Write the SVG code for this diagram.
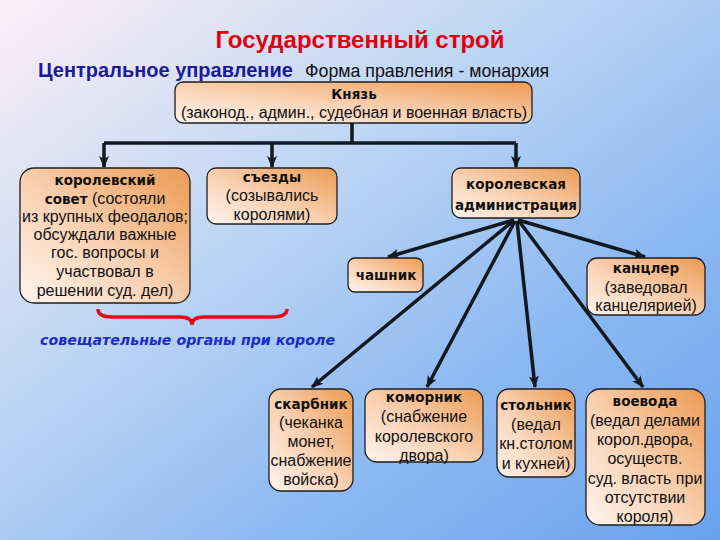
<svg xmlns="http://www.w3.org/2000/svg" width="720" height="540" viewBox="0 0 720 540">
<defs>
<linearGradient id="bg" x1="0" y1="0" x2="1" y2="1">
<stop offset="0" stop-color="#fdeef6"/>
<stop offset="0.35" stop-color="#c2d8f4"/>
<stop offset="0.7" stop-color="#8ab8f2"/>
<stop offset="1" stop-color="#6aa2ee"/>
</linearGradient>
<linearGradient id="box" x1="0" y1="1" x2="1" y2="0">
<stop offset="0" stop-color="#fff4ee"/>
<stop offset="0.45" stop-color="#f9d2b4"/>
<stop offset="1" stop-color="#ec9a52"/>
</linearGradient>
<marker id="ah" markerUnits="userSpaceOnUse" markerWidth="12" markerHeight="12" viewBox="0 0 12 12" refX="11" refY="6" orient="auto">
<path d="M0,1 L12,6 L0,11 L3,6 Z" fill="#111820"/>
</marker>
<style>
.b{fill:url(#box);stroke:#1e1e1e;stroke-width:1.3}
.t{font-family:"Liberation Sans",Arial,sans-serif;font-size:16px;fill:#111;text-anchor:middle}
.h{font-family:"DejaVu Sans",Verdana,sans-serif;font-size:13.5px;font-weight:bold;fill:#111;text-anchor:middle}
.c{fill:none;stroke:#111820;stroke-width:3.5}
</style>
</defs>
<rect width="720" height="540" fill="url(#bg)"/>
<text x="360" y="48" font-family="Liberation Sans,Arial,sans-serif" font-size="24" font-weight="bold" fill="#e00010" text-anchor="middle">Государственный строй</text>
<text x="38" y="77" font-family="Liberation Sans,Arial,sans-serif" font-size="20" font-weight="bold" fill="#1a1a9c">Центральное управление</text>
<text x="305" y="77" font-family="Liberation Sans,Arial,sans-serif" font-size="17.8" fill="#111">Форма правления - монархия</text>

<g id="connectors">
<path class="c" d="M352,123 V143 M104,143 H516"/>
<line class="c" x1="104" y1="143" x2="104" y2="167" marker-end="url(#ah)"/>
<line class="c" x1="272" y1="143" x2="272" y2="167" marker-end="url(#ah)"/>
<line class="c" x1="516" y1="143" x2="516" y2="167" marker-end="url(#ah)"/>
<line class="c" x1="514" y1="220" x2="388" y2="257" marker-end="url(#ah)"/>
<line class="c" x1="518" y1="220" x2="645" y2="257" marker-end="url(#ah)"/>
<line class="c" x1="513" y1="221" x2="312" y2="387" marker-end="url(#ah)"/>
<line class="c" x1="515" y1="221" x2="427" y2="387" marker-end="url(#ah)"/>
<line class="c" x1="517" y1="221" x2="535" y2="387" marker-end="url(#ah)"/>
<line class="c" x1="519" y1="221" x2="643" y2="387" marker-end="url(#ah)"/>
</g>

<g id="knyaz">
<rect class="b" x="175" y="82" width="357" height="41" rx="8"/>
<text class="h" x="354" y="99">Князь</text>
<text class="t" x="354" y="118">(законод., админ., судебная и военная власть)</text>
</g>

<g id="sovet">
<rect class="b" x="20" y="168" width="170" height="135" rx="14"/>
<text class="h" x="105" y="185">королевский</text>
<text class="t" x="105" y="204"><tspan font-family="DejaVu Sans,Verdana,sans-serif" font-size="13.5" font-weight="bold">совет</tspan> (состояли</text>
<text class="t" x="105" y="222">из крупных феодалов;</text>
<text class="t" x="105" y="240">обсуждали важные</text>
<text class="t" x="105" y="258">гос. вопросы и</text>
<text class="t" x="105" y="277">участвовал в</text>
<text class="t" x="105" y="296">решении суд. дел)</text>
</g>

<g id="sezdy">
<rect class="b" x="207" y="168" width="130" height="56" rx="9"/>
<text class="h" x="272" y="182">съезды</text>
<text class="t" x="272" y="201">(созывались</text>
<text class="t" x="272" y="220">королями)</text>
</g>

<g id="admin">
<rect class="b" x="452" y="168" width="128" height="50" rx="9"/>
<text class="h" x="516" y="189">королевская</text>
<text class="h" x="516" y="210">администрация</text>
</g>

<g id="brace">
<path d="M98,309 Q98,317 112,317 H180 Q192,317 192,325 Q192,317 204,317 H272 Q287,317 287,309" fill="none" stroke="#e0101a" stroke-width="3.5"/>
</g>
<text x="40" y="345" font-family="DejaVu Sans,Verdana,sans-serif" font-size="14.2" font-weight="bold" font-style="italic" fill="#1a2acc">совещательные органы при короле</text>

<g id="chashnik">
<rect class="b" x="348" y="258" width="75" height="34" rx="7"/>
<text class="h" x="386" y="280">чашник</text>
</g>

<g id="kancler">
<rect class="b" x="587" y="258" width="118" height="57" rx="10"/>
<text class="h" x="646" y="273">канцлер</text>
<text class="t" x="646" y="293">(заведовал</text>
<text class="t" x="646" y="311">канцелярией)</text>
</g>

<g id="skarbnik">
<rect class="b" x="269" y="389" width="84" height="102" rx="12"/>
<text class="h" x="311" y="409">скарбник</text>
<text class="t" x="311" y="428">(чеканка</text>
<text class="t" x="311" y="447">монет,</text>
<text class="t" x="311" y="466">снабжение</text>
<text class="t" x="311" y="485">войска)</text>
</g>

<g id="komornik">
<rect class="b" x="365" y="389" width="118" height="73" rx="12"/>
<text class="h" x="424" y="402">коморник</text>
<text class="t" x="424" y="422">(снабжение</text>
<text class="t" x="424" y="442">королевского</text>
<text class="t" x="424" y="461">двора)</text>
</g>

<g id="stolnik">
<rect class="b" x="497" y="389" width="78" height="88" rx="12"/>
<text class="h" x="536" y="410">стольник</text>
<text class="t" x="536" y="430">(ведал</text>
<text class="t" x="536" y="449">кн.столом</text>
<text class="t" x="536" y="469">и кухней)</text>
</g>

<g id="voevoda">
<rect class="b" x="586" y="389" width="119" height="136" rx="14"/>
<text class="h" x="645" y="406">воевода</text>
<text class="t" x="645" y="426">(ведал делами</text>
<text class="t" x="645" y="445">корол.двора,</text>
<text class="t" x="645" y="464">осуществ.</text>
<text class="t" x="645" y="484">суд. власть при</text>
<text class="t" x="645" y="503">отсутствии</text>
<text class="t" x="645" y="522">короля)</text>
</g>
</svg>
